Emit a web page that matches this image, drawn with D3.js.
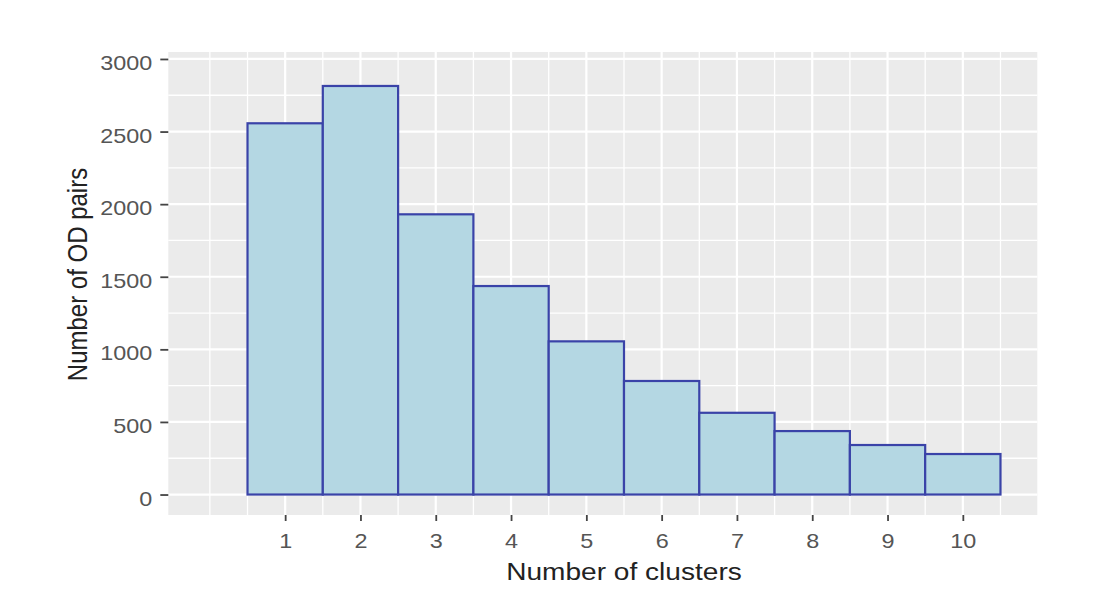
<!DOCTYPE html>
<html>
<head>
<meta charset="utf-8">
<script src="https://cdn.jsdelivr.net/npm/d3@7"></script>
<style>
  html, body { margin: 0; padding: 0; background: #fff; }
  svg { display: block; font-family: "Liberation Sans", Arial, sans-serif; }
</style>
</head>
<body>
<svg id="chart" width="1102" height="610"></svg>
<script>
// ---- data ----
const categories = [1, 2, 3, 4, 5, 6, 7, 8, 9, 10];
const counts = [2557, 2814, 1930, 1436, 1055, 782, 563, 437, 341, 279];
const yTickValues = [0, 500, 1000, 1500, 2000, 2500, 3000];
const xTickValues = [1, 2, 3, 4, 5, 6, 7, 8, 9, 10];
const yMinorValues = [250, 750, 1250, 1750, 2250, 2750];
const xMinorValues = [0, 0.5, 1.5, 2.5, 3.5, 4.5, 5.5, 6.5, 7.5, 8.5, 9.5, 10.5];
const xTitle = "Number of clusters";
const yTitle = "Number of OD pairs";

// ---- layout ----
const panel = { left: 168.3, right: 1037.3, top: 52, bottom: 515 };
const stretch = 1.17;

const svg = d3.select("#chart");
const x = d3.scaleLinear().domain([-0.552, 10.989]).range([panel.left, panel.right]);
const y = d3.scaleLinear().domain([-141, 3048]).range([panel.bottom, panel.top]);

// panel background
svg.append("rect")
  .attr("x", panel.left).attr("y", panel.top)
  .attr("width", panel.right - panel.left).attr("height", panel.bottom - panel.top)
  .attr("fill", "#ebebeb");

// grid
const grid = svg.append("g");
grid.selectAll(".hmin").data(yMinorValues).join("line")
  .attr("x1", panel.left).attr("x2", panel.right)
  .attr("y1", d => y(d)).attr("y2", d => y(d))
  .attr("stroke", "#fff").attr("stroke-width", 1.3);
grid.selectAll(".vmin").data(xMinorValues).join("line")
  .attr("y1", panel.top).attr("y2", panel.bottom)
  .attr("x1", d => x(d)).attr("x2", d => x(d))
  .attr("stroke", "#fff").attr("stroke-width", 1.3);
grid.selectAll(".hmaj").data(yTickValues).join("line")
  .attr("x1", panel.left).attr("x2", panel.right)
  .attr("y1", d => y(d)).attr("y2", d => y(d))
  .attr("stroke", "#fff").attr("stroke-width", 2.2);
grid.selectAll(".vmaj").data(xTickValues).join("line")
  .attr("y1", panel.top).attr("y2", panel.bottom)
  .attr("x1", d => x(d)).attr("x2", d => x(d))
  .attr("stroke", "#fff").attr("stroke-width", 2.2);

// bars
svg.append("g").selectAll("rect").data(categories).join("rect")
  .attr("x", d => x(d - 0.5))
  .attr("width", d => x(d + 0.5) - x(d - 0.5))
  .attr("y", (d, i) => y(counts[i]))
  .attr("height", (d, i) => y(0) - y(counts[i]))
  .attr("fill", "#b4d7e3")
  .attr("stroke", "#3a43a8")
  .attr("stroke-width", 2.2);

// y axis
const yAxis = svg.append("g")
  .attr("transform", `translate(${panel.left},0)`)
  .call(d3.axisLeft(y).tickValues(yTickValues).tickSize(8).tickFormat(d3.format("d")));
yAxis.select(".domain").remove();
yAxis.selectAll(".tick line").attr("stroke", "#444").attr("stroke-width", 1.8);
yAxis.selectAll(".tick text")
  .attr("x", null).attr("dy", null)
  .attr("text-anchor", "end")
  .attr("transform", `translate(-16,10.5) scale(${stretch},1)`)
  .attr("fill", "#555")
  .style("font-size", "20px")
  .style("font-family", "'Liberation Sans', Arial, sans-serif");

// x axis
const xAxis = svg.append("g")
  .attr("transform", `translate(0,${panel.bottom})`)
  .call(d3.axisBottom(x).tickValues(xTickValues).tickSize(6).tickFormat(d3.format("d")));
xAxis.select(".domain").remove();
xAxis.selectAll(".tick line").attr("stroke", "#444").attr("stroke-width", 1.8);
xAxis.selectAll(".tick text")
  .attr("y", null).attr("dy", null)
  .attr("text-anchor", "middle")
  .attr("transform", `translate(0,33) scale(${stretch},1)`)
  .attr("fill", "#555")
  .style("font-size", "20px")
  .style("font-family", "'Liberation Sans', Arial, sans-serif");

// titles
svg.append("text")
  .attr("transform", `translate(624,580) scale(${stretch},1)`)
  .attr("text-anchor", "middle")
  .attr("fill", "#222")
  .style("font-size", "24px")
  .text(xTitle);

svg.append("text")
  .attr("transform", `translate(87,274.5) scale(${stretch},1) rotate(-90)`)
  .attr("text-anchor", "middle")
  .attr("fill", "#222")
  .style("font-size", "24px")
  .text(yTitle);
</script>
</body>
</html>
